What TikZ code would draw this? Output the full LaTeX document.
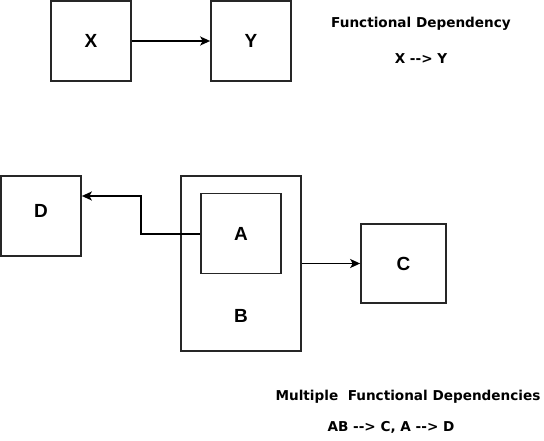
\documentclass[tikz,border=0pt]{standalone}
\usepackage{fontspec}
\setmainfont{Liberation Sans}
\newfontfamily\vfont{DejaVu Sans}
\usetikzlibrary{arrows.meta}
\begin{document}
\begin{tikzpicture}[x=1pt,y=-1pt,
  lbl/.style={font=\fontsize{19}{19}\selectfont\bfseries},
  box/.style={draw=black!85,line width=1.7pt,minimum width=80pt,minimum height=80pt,inner sep=0pt,lbl},
  conn/.style={line width=1.6pt,-{Stealth[length=10pt,width=9pt,inset=2.5pt]}},
  captext/.style={font=\vfont\bfseries\fontsize{13.6}{14}\selectfont,inner sep=0pt}]
\useasboundingbox (0,0) rectangle (544,441);
\node[box] (X) at (91,41) {X};
\node[box] (Y) at (251,41) {Y};
\draw[conn] (X) -- (Y);
\node[captext] (t1) at (421,24) {Functional Dependency};
\node[captext] (t2) at (421,59) {X -{}-> Y};
\node[box] (D) at (41,216) {};
\node[lbl] (Dl) at (41,211) {D};
\node[draw=black!85,line width=1.7pt,minimum width=120pt,minimum height=175pt,inner sep=0pt] (B) at (241,263.5) {};
\node[lbl] (Bl) at (241,316) {B};
\node[box] (A) at (241,233.5) {A};
\node[box,minimum width=85pt,minimum height=79pt] (C) at (403.5,263.5) {C};
\draw[conn] (B.east |- C) -- (C.west);
\coordinate (k1) at (141,234);
\coordinate (k2) at (141,196);
\draw[conn] (A.west |- k1) -- (k1) -- (k2) -- (D.east |- k2);
\node[captext] (t3) at (408,397) {Multiple\ \ Functional Dependencies};
\node[captext] (t4) at (391,427) {AB -{}-> C, A -{}-> D};
\end{tikzpicture}
\end{document}
